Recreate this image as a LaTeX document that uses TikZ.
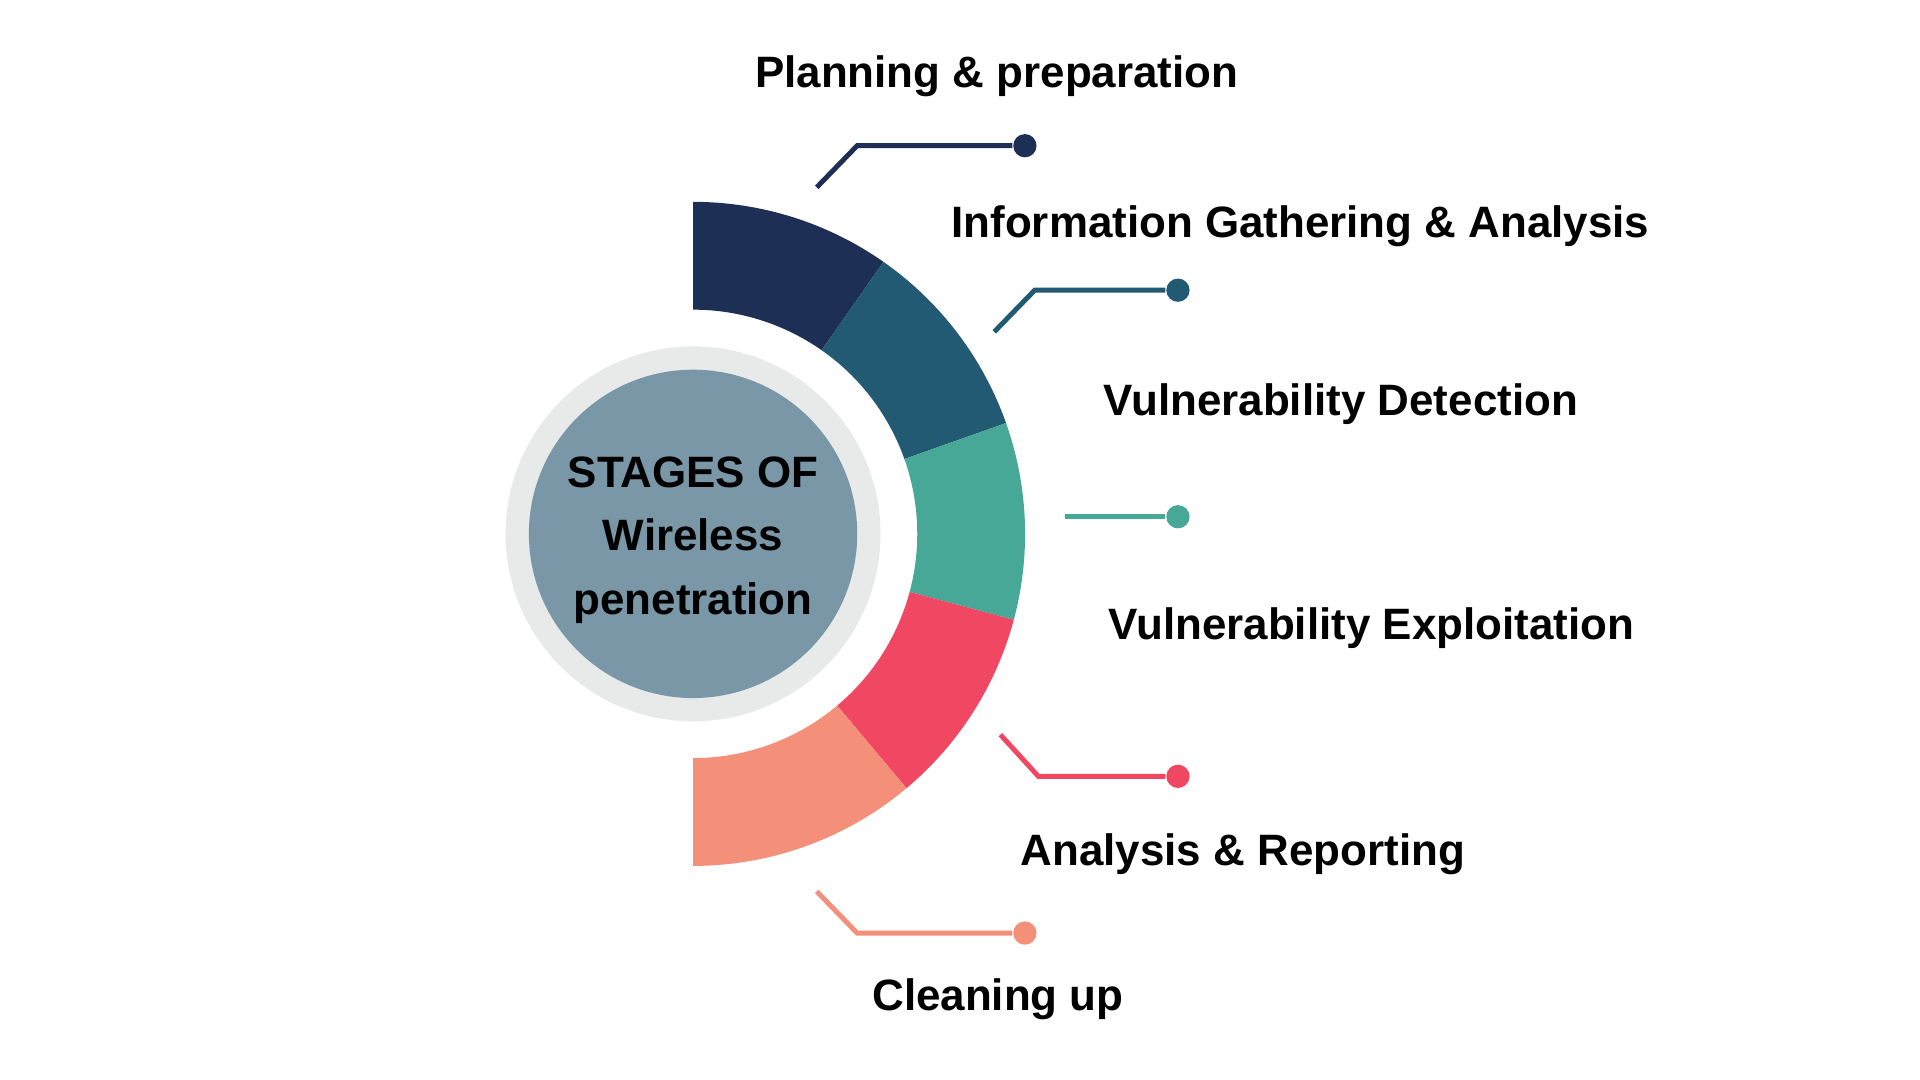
\documentclass[tikz,border=0pt]{standalone}
\usepackage{fontspec}
\setmainfont{Liberation Sans}
\begin{document}
\begin{tikzpicture}[x=0.01cm,y=-0.01cm,
  lab/.style={font=\bfseries\fontsize{10.2}{12}\selectfont,text=black},
  con/.style={line width=1.15pt},
  dot/.style={circle,inner sep=0pt,minimum size=0.19cm}]
\definecolor{cA}{HTML}{1E2F55}\definecolor{cB}{HTML}{235A73}
\definecolor{cC}{HTML}{48A897}\definecolor{cD}{HTML}{F04763}
\definecolor{cE}{HTML}{F4907A}\definecolor{gr}{HTML}{E8E9E9}
\definecolor{bl}{HTML}{7A97A7}
\useasboundingbox[fill=white] (0,0) rectangle (1568,882);
\coordinate (O) at (566,436);
\fill[gr] (O) circle[radius=1.53cm];
\node[circle,fill=bl,minimum size=2.68cm,inner sep=0pt] (core) at (O) {};
\node[lab,align=center,font=\bfseries\fontsize{10.2}{14.8}\selectfont] (title) at (566,441) {STAGES OF\\Wireless\\penetration};
\foreach \a/\b/\c in {90/55/cA,55/19.5/cB,19.5/-15/cC,-15/-50/cD,-50/-90/cE}
  \fill[\c] ([shift={(O)}]\a:1.83cm) arc[start angle=\a,end angle=\b,radius=1.83cm]
    -- ([shift={(O)}]\b:2.71cm) arc[start angle=\b,end angle=\a,radius=2.71cm] -- cycle;
% connectors
\coordinate (s1) at (667,153); \node[dot,fill=cA] (d1) at (837,119) {};
\draw[con,cA] (s1) -- (700,119) -- (d1);
\coordinate (s2) at (812,271); \node[dot,fill=cB] (d2) at (962,237) {};
\draw[con,cB] (s2) -- (845,237) -- (d2);
\coordinate (s3) at (870,422); \node[dot,fill=cC] (d3) at (962,422) {};
\draw[con,cC] (s3) -- (d3);
\coordinate (s4) at (817,600); \node[dot,fill=cD] (d4) at (962,634) {};
\draw[con,cD] (s4) -- (848,634) -- (d4);
\coordinate (s5) at (667,728); \node[dot,fill=cE] (d5) at (837,762) {};
\draw[con,cE] (s5) -- (700,762) -- (d5);
% labels
\node[lab] (l1) at (814,62) {Planning \& preparation};
\node[lab] (l2) at (1062,185) {Information Gathering \& Analysis};
\node[lab] (l3) at (1095,330) {Vulnerability Detection};
\node[lab] (l4) at (1120,513) {Vulnerability Exploitation};
\node[lab] (l5) at (1015,698) {Analysis \& Reporting};
\node[lab] (l6) at (815,816) {Cleaning up};
\end{tikzpicture}
\end{document}
